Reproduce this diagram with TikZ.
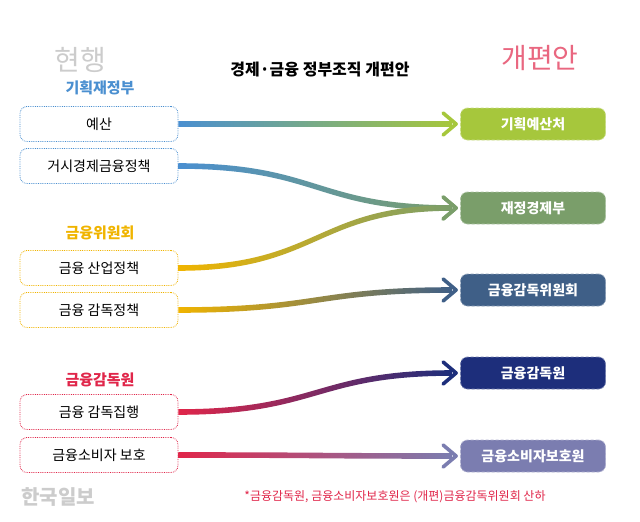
\documentclass[tikz,border=0pt]{standalone}
\usepackage{fontspec}
\newfontfamily\kr{Noto Sans CJK KR}
\usetikzlibrary{positioning,calc}
\definecolor{cBlue}{HTML}{4A8FD0}
\definecolor{cYel}{HTML}{F0B400}
\definecolor{cRed}{HTML}{E0264A}
\definecolor{cLime}{HTML}{A6C73C}
\definecolor{cGreen}{HTML}{7A9E6A}
\definecolor{cSlate}{HTML}{3F5F87}
\definecolor{cNavy}{HTML}{1D2E7B}
\definecolor{cLav}{HTML}{7B7DB0}
\newcommand{\ribbon}[4]{% start, end, left colour, right colour
  \shade[left color=#3,right color=#4]
    ($(#1)+(0,-2.8)$) .. controls ($(#1)+(140,-2.8)$) and ($(#2)+(-140,-2.8)$) .. ($(#2)+(-4,-2.8)$)
    -- ($(#2)+(-4,2.8)$) .. controls ($(#2)+(-140,2.8)$) and ($(#1)+(140,2.8)$) .. ($(#1)+(0,2.8)$) -- cycle;
  \draw[#4,line width=3.6pt,line cap=round,line join=round]
    ($(#2)+(-13,-11)$) -- (#2) -- ($(#2)+(-13,11)$);}
\newcommand{\fs}[1]{\fontsize{#1}{#1}\selectfont}
\begin{document}
\begin{tikzpicture}[x=1pt,y=-1pt,font=\kr,
  oldbox/.style={draw=#1,densely dotted,thick,fill=white,rounded corners=7pt,
    minimum width=158pt,minimum height=35pt,font=\kr\fs{14}},
  newbox/.style={draw=#1!60!white,densely dashed,thick,fill=#1,rounded corners=7pt,
    minimum width=145pt,minimum height=32pt,text=white,font=\kr\fs{14}\bfseries},
  group/.style={text=#1,font=\kr\fs{15}\bfseries}]
\useasboundingbox (0,0) rectangle (640,522);
% left side
\node (yesan) [oldbox=cBlue] at (99,124) {예산};
\node (geosi) [oldbox=cBlue] at (99,166) {거시경제금융정책};
\node (saneop) [oldbox=cYel] at (99,268) {금융 산업정책};
\node (gamdok) [oldbox=cYel] at (99,310) {금융 감독정책};
\node (jiphaeng) [oldbox=cRed] at (99,412) {금융 감독집행};
\node (sobija) [oldbox=cRed] at (99,455) {금융소비자 보호};
\node [group=cBlue] at (100,88) {기획재정부};
\node [group=cYel] at (100,233) {금융위원회};
\node [group=cRed] at (100,380) {금융감독원};
\node [text=black!20,font=\kr\fs{28}] at (80,60) {현행};
% right side
\node (budget) [newbox=cLime] at (533,124) {기획예산처};
\node (finance) [newbox=cGreen] at (533,208) {재정경제부};
\node (fsc) [newbox=cSlate] at (533,290) {금융감독위원회};
\node (fss) [newbox=cNavy] at (533,373) {금융감독원};
\node (consumer) [newbox=cLav] at (533,456) {금융소비자보호원};
\node [text=cRed!70!white,font=\kr\fs{28}] at (540,58) {개편안};
\node [font=\kr\fs{16}\bfseries] at (320,70) {경제·금융 정부조직 개편안};
% connectors
\coordinate (t1) at ($(budget.west)+(-4,0)$);
\coordinate (t2) at ($(finance.west)+(-4,0)$);
\coordinate (t3) at ($(fsc.west)+(-4,0)$);
\coordinate (t4) at ($(fss.west)+(-4,0)$);
\coordinate (t5) at ($(consumer.west)+(-4,0)$);
\ribbon{yesan.east}{t1}{cBlue}{cLime}
\ribbon{geosi.east}{t2}{cBlue}{cGreen}
\ribbon{saneop.east}{t2}{cYel}{cGreen}
\ribbon{gamdok.east}{t3}{cYel}{cSlate}
\ribbon{jiphaeng.east}{t4}{cRed}{cNavy}
\ribbon{sobija.east}{t5}{cRed}{cLav}
% notes
\node [text=cRed,font=\kr\fs{12}] at (395,497) {*금융감독원, 금융소비자보호원은 (개편)금융감독위원회 산하};
\node [text=black!20,font=\kr\fs{20}\bfseries] at (58,497) {한국일보};
\end{tikzpicture}
\end{document}
